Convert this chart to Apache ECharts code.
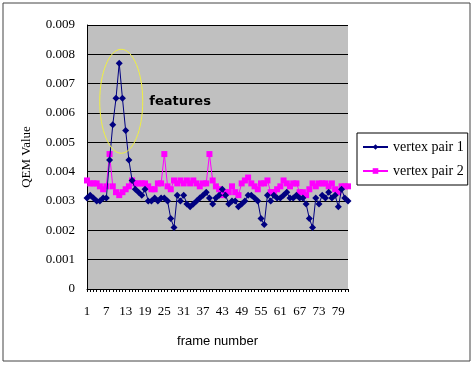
<!DOCTYPE html>
<html><head><meta charset="utf-8">
<script src="https://cdn.jsdelivr.net/npm/echarts@6/dist/echarts.min.js"></script>
<style>html,body{margin:0;padding:0;background:#fff}#c{width:474px;height:366px}</style>
</head><body><div id="c"></div>
<script>
// frame numbers 1..82
const frames = [];
for (let i = 1; i <= 82; i++) frames.push(String(i));

const vertexPair1 = [
 0.0031,0.0032,0.0031,0.0030,0.0030,0.0031,0.0031,0.0044,0.0056,0.0065,
 0.0077,0.0065,0.0054,0.0044,0.0037,0.0034,0.0033,0.0032,0.0034,0.0030,
 0.0030,0.0031,0.0030,0.0031,0.0031,0.0030,0.0024,0.0021,0.0032,0.0030,
 0.0032,0.0029,0.0028,0.0029,0.0030,0.0031,0.0032,0.0033,0.0031,0.0029,
 0.0031,0.0032,0.0034,0.0032,0.0029,0.0030,0.0030,0.0028,0.0029,0.0030,
 0.0032,0.0032,0.0031,0.0030,0.0024,0.0022,0.0032,0.0030,0.0032,0.0031,
 0.0031,0.0032,0.0033,0.0031,0.0031,0.0032,0.0031,0.0031,0.0029,0.0024,
 0.0021,0.0031,0.0029,0.0032,0.0031,0.0033,0.0031,0.0032,0.0028,0.0034,
 0.0031,0.0030
];
const vertexPair2 = [
 0.0037,0.0036,0.0036,0.0036,0.0035,0.0034,0.0035,0.0046,0.0035,0.0033,
 0.0032,0.0033,0.0034,0.0035,0.0037,0.0036,0.0036,0.0036,0.0036,0.0035,
 0.0034,0.0034,0.0036,0.0036,0.0046,0.0035,0.0034,0.0037,0.0036,0.0037,
 0.0036,0.0037,0.0036,0.0037,0.0036,0.0035,0.0036,0.0036,0.0046,0.0037,
 0.0035,0.0034,0.0032,0.0033,0.0033,0.0035,0.0033,0.0032,0.0036,0.0037,
 0.0038,0.0036,0.0035,0.0034,0.0036,0.0036,0.0037,0.0033,0.0033,0.0034,
 0.0035,0.0037,0.0036,0.0035,0.0036,0.0036,0.0033,0.0033,0.0032,0.0034,
 0.0036,0.0035,0.0036,0.0036,0.0036,0.0035,0.0036,0.0034,0.0033,0.0035,
 0.0035,0.0035
];
const seriesNames = ['vertex pair 1', 'vertex pair 2'];
const yMin = 0, yMax = 0.009, yStep = 0.001;
const annotationText = 'features';

const serif = '"Liberation Serif", "Times New Roman", serif';
const chart = echarts.init(document.getElementById('c'), null, {renderer: 'canvas'});
chart.setOption({
  animation: false,
  backgroundColor: '#fff',
  grid: {left: 87, right: 126, top: 25, bottom: 77, show: true, backgroundColor: '#c0c0c0', borderWidth: 0},
  legend: {
    orient: 'vertical', left: 357, top: 133,
    padding: [6, 4, 6, 5], itemGap: 8, itemWidth: 25, itemHeight: 7,
    borderColor: '#000', borderWidth: 1,
    textStyle: {fontFamily: serif, fontSize: 14, color: '#000', lineHeight: 16},
    data: seriesNames
  },
  xAxis: {
    type: 'category', data: frames, boundaryGap: false,
    name: 'frame number', nameLocation: 'middle', nameGap: 46,
    nameTextStyle: {fontFamily: '"Liberation Sans", Arial, sans-serif', fontSize: 13, color: '#000'},
    axisLine: {lineStyle: {color: '#000', width: 1}},
    axisTick: {show: true, interval: 0, length: 3, lineStyle: {color: '#000'}},
    axisLabel: {interval: 5, margin: 16, fontFamily: serif, fontSize: 13, color: '#000'},
    splitLine: {show: false}
  },
  yAxis: {
    type: 'value', min: yMin, max: yMax, interval: yStep,
    name: 'QEM Value', nameLocation: 'middle', nameGap: 54,
    nameTextStyle: {fontFamily: serif, fontSize: 13, color: '#000'},
    axisLine: {show: true, lineStyle: {color: '#000', width: 1}},
    axisTick: {show: false},
    axisLabel: {margin: 12, fontFamily: serif, fontSize: 13, color: '#000',
      formatter: v => v === 0 ? '0' : v.toFixed(3)},
    splitLine: {show: true, lineStyle: {color: '#000', width: 1}}
  },
  series: [
    {name: seriesNames[0], type: 'line', data: vertexPair1, symbol: 'diamond', symbolSize: 7,
     showSymbol: true, showAllSymbol: true,
     itemStyle: {color: '#000080'}, lineStyle: {color: '#000080', width: 1}, z: 3},
    {name: seriesNames[1], type: 'line', data: vertexPair2, symbol: 'rect', symbolSize: 6,
     showSymbol: true, showAllSymbol: true,
     itemStyle: {color: '#ff00ff'}, lineStyle: {color: '#ff00ff', width: 1}, z: 2}
  ]
});
const pA = chart.convertToPixel({xAxisIndex: 0, yAxisIndex: 0}, [10, 0.0064]);
chart.setOption({
  graphic: [
    {type: 'rect', shape: {x: 3, y: 3, width: 467, height: 358}, silent: true,
     style: {fill: 'none', stroke: '#444', lineWidth: 1}},
    {type: 'ellipse', shape: {cx: pA[0] + 2, cy: pA[1], rx: 21.5, ry: 52}, z: 10,
     style: {fill: 'none', stroke: '#f0f040', lineWidth: 1}},
    {type: 'text', x: pA[0] + 30, y: pA[1], z: 10,
     style: {text: annotationText, fill: '#000', font: 'bold 13px "DejaVu Sans", Verdana, sans-serif', textVerticalAlign: 'middle'}}
  ]
});
</script></body></html>
